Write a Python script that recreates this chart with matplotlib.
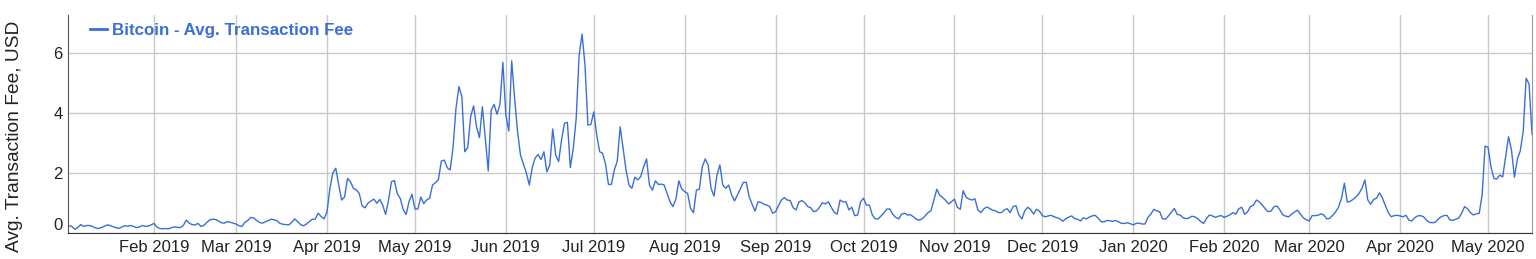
import pandas as pd
import matplotlib
matplotlib.use("Agg")
import matplotlib.pyplot as plt
import matplotlib.dates as mdates

plt.rcParams['font.family'] = ['Liberation Sans', 'DejaVu Sans']

START = '2019-01-03'
SERIES_NAME = 'Bitcoin - Avg. Transaction Fee'
Y_LABEL = 'Avg. Transaction Fee, USD'
Y_TICKS = [0, 2, 4, 6]
BLUE = '#3a6fd8'

# daily average fee in USD
jan19 = [0.24, 0.22, 0.12, 0.18, 0.28, 0.22, 0.25, 0.25, 0.22, 0.17, 0.15, 0.18, 0.22, 0.27, 0.25,
         0.21, 0.18, 0.15, 0.2, 0.24, 0.23, 0.25, 0.22, 0.18, 0.2, 0.25, 0.22, 0.23, 0.27]
feb19 = [0.32, 0.2, 0.15, 0.14, 0.15, 0.14, 0.18, 0.2, 0.19, 0.18, 0.25, 0.43, 0.33, 0.28, 0.27,
         0.32, 0.22, 0.25, 0.35, 0.44, 0.46, 0.45, 0.4, 0.34, 0.33, 0.38, 0.36, 0.33]
mar19 = [0.3, 0.24, 0.22, 0.36, 0.42, 0.52, 0.5, 0.42, 0.35, 0.33, 0.37, 0.42, 0.46, 0.44, 0.4,
         0.32, 0.29, 0.28, 0.27, 0.36, 0.47, 0.38, 0.28, 0.24, 0.3, 0.38, 0.46, 0.46, 0.66, 0.55, 0.47]
apr19 = [0.7, 1.49, 2.0, 2.16, 1.6, 1.1, 1.2, 1.82, 1.71, 1.49, 1.44, 1.32, 0.9, 0.84, 1.0,
         1.07, 1.13, 0.99, 1.12, 0.93, 0.62, 1.1, 1.71, 1.75, 1.3, 1.15, 0.78, 0.62, 1.05, 1.29]
may19 = [0.8, 0.8, 1.2, 0.98, 1.1, 1.16, 1.6, 1.68, 1.78, 2.4, 2.43, 2.18, 2.1, 2.85, 4.16,
         4.88, 4.55, 2.71, 2.85, 3.88, 4.24, 3.54, 3.18, 4.21, 3.16, 2.07, 4.1, 4.29, 3.96, 4.29, 5.69]
jun19 = [3.93, 3.4, 5.74, 4.49, 3.38, 2.6, 2.3, 2.0, 1.6, 2.18, 2.5, 2.62, 2.45, 2.71, 2.04,
         2.27, 3.47, 2.6, 2.38, 3.1, 3.66, 3.69, 2.18, 2.82, 3.82, 5.93, 6.63, 5.6, 3.6, 3.62]
jul19 = [4.04, 3.27, 2.71, 2.66, 2.3, 1.62, 1.62, 2.1, 2.4, 3.54, 2.82, 2.1, 1.6, 1.49, 1.86,
         1.77, 1.88, 2.21, 2.47, 1.6, 1.43, 1.74, 1.62, 1.63, 1.6, 1.32, 1.04, 0.88, 1.13, 1.74, 1.47]
aug19 = [1.38, 1.32, 0.82, 0.68, 1.43, 1.46, 2.21, 2.47, 2.27, 1.49, 1.23, 1.93, 2.27, 1.6, 1.49,
         1.6, 1.27, 1.07, 1.27, 1.47, 1.69, 1.69, 1.21, 0.96, 0.73, 1.04, 1.02, 0.96, 0.93, 0.88, 0.66]
sep19 = [0.71, 0.91, 1.1, 1.18, 1.1, 1.08, 0.84, 0.77, 1.04, 1.08, 1.01, 0.88, 0.84, 0.71, 0.74,
         0.86, 1.01, 0.97, 1.04, 0.86, 0.69, 0.63, 1.1, 1.04, 1.04, 0.77, 0.86, 0.58, 0.6, 1.04]
oct19 = [1.16, 0.93, 0.93, 0.6, 0.47, 0.47, 0.57, 0.68, 0.8, 0.8, 0.62, 0.52, 0.47, 0.63, 0.66,
         0.6, 0.61, 0.54, 0.46, 0.43, 0.47, 0.57, 0.68, 0.74, 1.1, 1.46, 1.26, 1.18, 1.09, 0.97, 1.04]
nov19 = [1.13, 0.86, 0.79, 1.41, 1.19, 1.13, 1.1, 1.14, 0.77, 0.68, 0.8, 0.87, 0.82, 0.76, 0.74,
         0.68, 0.68, 0.77, 0.81, 0.68, 0.88, 0.91, 0.6, 0.47, 0.74, 0.86, 0.78, 0.63, 0.79, 0.73]
dec19 = [0.58, 0.54, 0.57, 0.59, 0.54, 0.51, 0.47, 0.39, 0.48, 0.53, 0.57, 0.48, 0.46, 0.4, 0.51,
         0.47, 0.53, 0.57, 0.59, 0.5, 0.38, 0.37, 0.42, 0.41, 0.39, 0.42, 0.37, 0.32, 0.32, 0.34, 0.31]
jan20 = [0.27, 0.32, 0.33, 0.3, 0.3, 0.52, 0.63, 0.79, 0.74, 0.71, 0.47, 0.46, 0.57, 0.69, 0.82,
         0.62, 0.6, 0.51, 0.48, 0.5, 0.56, 0.54, 0.48, 0.38, 0.32, 0.49, 0.6, 0.57, 0.52, 0.56, 0.58]
feb20 = [0.52, 0.56, 0.61, 0.68, 0.63, 0.81, 0.86, 0.62, 0.71, 0.88, 0.93, 1.1, 1.04, 0.93, 0.81,
         0.71, 0.73, 0.88, 0.9, 0.77, 0.61, 0.56, 0.54, 0.63, 0.7, 0.76, 0.63, 0.51, 0.44]
mar20 = [0.4, 0.58, 0.58, 0.59, 0.64, 0.6, 0.47, 0.49, 0.59, 0.7, 0.86, 1.15, 1.66, 1.03, 1.06,
         1.12, 1.21, 1.32, 1.49, 1.77, 1.1, 0.96, 1.12, 1.16, 1.34, 1.16, 0.91, 0.68, 0.54, 0.58, 0.59]
apr20 = [0.57, 0.54, 0.59, 0.43, 0.4, 0.51, 0.57, 0.58, 0.54, 0.43, 0.36, 0.34, 0.36, 0.46, 0.54,
         0.58, 0.59, 0.44, 0.42, 0.46, 0.5, 0.66, 0.88, 0.81, 0.68, 0.6, 0.64, 0.66, 1.27, 2.9]
may20 = [2.86, 2.21, 1.82, 1.8, 1.93, 1.87, 2.54, 3.21, 2.77, 1.86, 2.46, 2.74, 3.38, 5.16, 4.97,
         3.3]

fees = (jan19 + feb19 + mar19 + apr19 + may19 + jun19 + jul19 + aug19 + sep19 + oct19
        + nov19 + dec19 + jan20 + feb20 + mar20 + apr20 + may20)
dates = pd.date_range(START, periods=len(fees), freq='D')

fig = plt.figure(figsize=(15.36, 2.59), dpi=100)
ax = fig.add_axes([68 / 1536, 26 / 259, 1464 / 1536, 218 / 259])

ax.plot(dates, fees, color=BLUE, lw=1.0, label=SERIES_NAME)

ax.set_xlim(pd.Timestamp(START) - pd.Timedelta(hours=8), dates[-1])
ax.set_ylim(0, 7.27)
ax.xaxis.set_major_locator(mdates.MonthLocator())
ax.xaxis.set_major_formatter(mdates.DateFormatter('%b %Y'))
ax.set_yticks(Y_TICKS)
ax.set_yticklabels([str(t) for t in Y_TICKS])

ax.grid(color='#c8c8c8', lw=1)
ax.set_axisbelow(True)
ax.tick_params(axis='both', length=0, labelsize=12, colors='#222222')
ax.tick_params(axis='x', pad=5)
ax.tick_params(axis='y', pad=4)
ax.yaxis.get_major_ticks()[0].label1.set_verticalalignment('bottom')

ax.spines['top'].set_visible(False)
ax.spines['left'].set_color('#555555')
ax.spines['bottom'].set_color('#333333')
ax.spines['right'].set_color('#999999')

ax.set_ylabel(Y_LABEL, fontsize=13.8, color='#222222')
ax.yaxis.set_label_coords(-0.0305, 0.443)

leg = ax.legend(loc='center left', bbox_to_anchor=(22 / 1464, 1 - 15 / 218), frameon=False,
                borderpad=0, borderaxespad=0, handlelength=1.0, handletextpad=0.3,
                prop={'weight': 'bold', 'size': 12.2}, labelcolor=BLUE)
leg.get_lines()[0].set_linewidth(2)

fig.savefig('out.png', dpi=100)
